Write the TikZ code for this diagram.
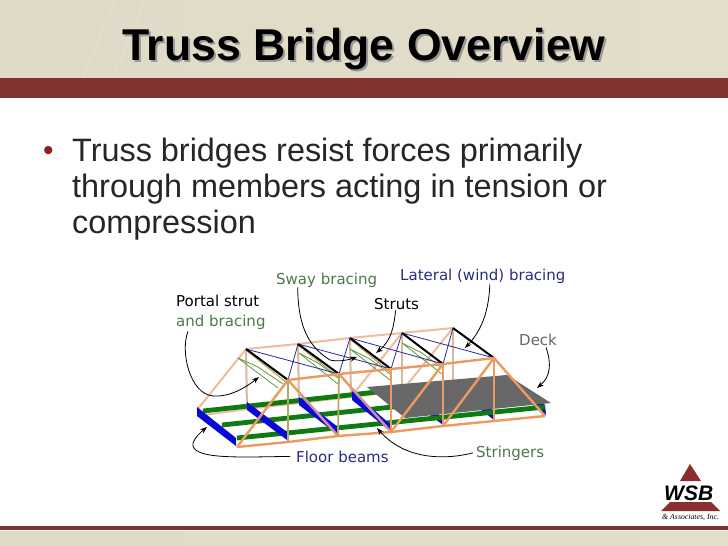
\documentclass[tikz,border=0pt]{standalone}
\usepackage{fontspec}
\setmainfont{Liberation Sans}
\newfontfamily\labelfont{DejaVu Sans}
\newfontfamily\logoserif{Liberation Serif}
\usetikzlibrary{arrows.meta}
\definecolor{bandA}{HTML}{DFDBC8}
\definecolor{bandB}{HTML}{E3DDC9}
\definecolor{barred}{HTML}{843230}
\definecolor{dotred}{HTML}{8E1F1F}
\definecolor{frontor}{HTML}{EC9A62}
\definecolor{backor}{HTML}{EDBD9E}
\definecolor{backgray}{HTML}{D9B8A0}
\definecolor{olive}{HTML}{B5A860}
\definecolor{plum}{HTML}{C58AC0}
\definecolor{bracegreen}{HTML}{5E9A3C}
\definecolor{bracenavy}{HTML}{2A2A9A}
\definecolor{beamblue}{HTML}{0A0AD8}
\definecolor{stringgreen}{HTML}{0E7A12}
\definecolor{deckgray}{HTML}{686868}
\definecolor{txtgreen}{HTML}{4A7A4A}
\definecolor{txtnavy}{HTML}{2C2C80}
\definecolor{logored}{HTML}{8A2F2D}
\tikzset{
  x=1pt,y=-1pt,
  titletext/.style={anchor=base west,inner sep=0pt,font=\fontsize{44.6}{44.6}\selectfont\bfseries},
  bodytext/.style={anchor=base west,inner sep=0pt,text=black!85,font=\fontsize{32.4}{32.4}\selectfont},
  tag/.style={anchor=base west,inner sep=0pt,font=\labelfont\fontsize{15}{15}\selectfont},
  frontline/.style={draw=frontor,line width=2.4pt},
  backline/.style={draw=backor,line width=2pt},
  postline/.style={draw=backgray,line width=2pt},
  strutline/.style={draw=black,line width=2pt},
  lateral/.style={draw=bracenavy,line width=0.8pt},
  sway/.style={draw=bracegreen,line width=0.8pt},
  oliveline/.style={draw=olive,line width=1.2pt},
  plumline/.style={draw=plum,line width=1.6pt},
  beam/.style={fill=beamblue,draw=none},
  stringer/.style={draw=stringgreen,line width=4.8pt},
  callout/.style={draw=black,line width=0.8pt,-{Stealth[length=7pt,width=5pt]}},
}
\begin{document}
\begin{tikzpicture}
\useasboundingbox (0,0) rectangle (728,546);
% slide background
\fill[white] (0,0) rectangle (728,546);
\shade[left color=bandA,right color=bandB] (0,0) rectangle (728,78);
\draw[white,opacity=.25,line width=.7pt] (115,0) -- (83,78);
\draw[white,opacity=.25,line width=.7pt] (145,0) -- (113,78);
\fill[barred] (0,78) rectangle (728,98);
\fill[barred] (0,525.5) rectangle (728,529.5);
\shade[left color=bandA,right color=bandB] (0,531) rectangle (728,546);
% title and body
\node[titletext,text=black] (title) at (122,60) {\rlap{\kern2pt\raisebox{-2pt}{\textcolor{black!40}{Truss Bridge Overview}}}Truss Bridge Overview};
\node[anchor=base west,inner sep=0pt,text=dotred,font=\fontsize{30}{30}\selectfont] (bullet) at (43,160) {•};
\node[bodytext] (l1) at (72,161) {Truss bridges resist forces primarily};
\node[bodytext] (l2) at (72,197) {through members acting in tension or};
\node[bodytext] (l3) at (72,233) {compression};
% joints
\coordinate (F0) at (237,447);\coordinate (F1) at (288,442);\coordinate (F2) at (338,436);
\coordinate (F3) at (391,432);\coordinate (F4) at (443,426);\coordinate (F5) at (494,421);\coordinate (F6) at (545,416);
\coordinate (T1) at (288,380);\coordinate (T2) at (339,374);\coordinate (T3) at (391,369);
\coordinate (T4) at (443,364);\coordinate (T5) at (494,358);
\coordinate (B0) at (197,410);\coordinate (B1) at (247,409);\coordinate (B2) at (299,403);
\coordinate (B3) at (351,397);\coordinate (B4) at (402,391);\coordinate (B5) at (453,386);\coordinate (B6) at (505,380);
\coordinate (U1) at (246,349);\coordinate (U2) at (298,344);\coordinate (U3) at (350,338);
\coordinate (U4) at (402,333);\coordinate (U5) at (453,328);
% back truss
\draw[backline] (197,416) -- (B1) -- (B2) -- (B3) -- (B4) -- (B5) -- (B6);
\draw[backline] (U1) -- (U2) -- (U3) -- (U4) -- (U5);
\draw[backline] (B0) -- (U1);
\draw[backline] (B3) -- (U4);
\draw[backline] (B4) -- (U5);
\foreach \a/\b in {U1/B1,U2/B2,U3/B3,U4/B4,U5/B5}{\draw[postline] (\a) -- (\b);}
% hidden ends of the floor beams
\fill[beam] (403,385) -- (443,418) -- (443,425) -- (403,394) -- cycle;
\fill[beam] (454,380) -- (494,411) -- (494,420) -- (454,389) -- cycle;
\fill[beam] (505,375) -- (545,405) -- (546,415) -- (505,384) -- cycle;
% stringers
\draw[stringer] (203,411) -- (505,378);
\draw[stringer] (222,425) -- (525,393);
\draw[stringer] (237,438) -- (545,407);
% floor beams
\fill[beam] (197,407) -- (236,438) -- (236,446) -- (197,416) -- cycle;
\fill[beam] (247,402) -- (287,432) -- (287,440) -- (247,410) -- cycle;
\fill[beam] (299,397) -- (338,427) -- (338,435) -- (299,405) -- cycle;
\fill[beam] (352,391) -- (390,424) -- (390,431) -- (352,400) -- cycle;
% deck
\fill[deckgray] (367,387) -- (507,375) -- (551,403) -- (405,418) -- cycle;
% sway bracing
\draw[sway] (238,358) -- (278,388) (238,358) -- (258,367) -- (283,384);
\draw[sway] (299,353) -- (338,384) (299,353) -- (318,363) -- (338,378);
\draw[sway] (350,349) -- (390,380) (350,349) -- (370,359) -- (390,374);
\draw[sway] (402,343) -- (442,374) (402,343) -- (422,353) -- (442,368);
% olive portal lines beneath the struts
\draw[oliveline] (246,350) -- (287,383);
\draw[oliveline] (298,345) -- (338,377);
\draw[oliveline] (350,339) -- (390,372);
% lateral bracing
\draw[lateral] (U1) -- (T2) (U2) -- (T1);
\draw[lateral] (U2) -- (T3) (U3) -- (T2);
\draw[lateral] (U3) -- (T4) (U4) -- (T3);
\draw[lateral] (U4) -- (T5) (U5) -- (T4);
% struts
\foreach \a/\b in {U1/T1,U2/T2,U3/T3,U4/T4,U5/T5}{\draw[strutline] (\a) -- (\b);}
% front truss
\draw[frontline] (F0) -- (F1) -- (F2) -- (F3) -- (F4) -- (F5) -- (F6);
\draw[frontline] (T1) -- (T2) -- (T3) -- (T4) -- (T5);
\draw[frontline] (F0) -- (T1) -- (F2);
\draw[frontline] (T2) -- (F3) -- (T4);
\draw[frontline] (F4) -- (T5) -- (F6);
\draw[plumline] (301,395) -- (335,432);
\draw[plumline] (352,389) -- (388,428);
\draw[oliveline,line width=1.8pt] (T1) -- (F1);
\draw[oliveline,line width=1.8pt] (T2) -- (F2);
\foreach \a/\b in {T3/F3,T4/F4,T5/F5}{\draw[frontline,line width=1.8pt] (\a) -- (\b);}
% labels
\node[tag,text=txtgreen] (sway) at (276,284) {Sway bracing};
\node[tag,text=txtnavy] (lat) at (400,280) {Lateral (wind) bracing};
\node[tag,text=black] (struts) at (374,309) {Struts};
\node[tag,text=black] (portal) at (176,306) {Portal strut};
\node[tag,text=txtgreen] (portal2) at (176,326) {and bracing};
\node[tag,text=black!60] (deck) at (519,345) {Deck};
\node[tag,text=txtgreen] (string) at (476,457) {Stringers};
\node[tag,text=txtnavy] (floor) at (296,462) {Floor beams};
% callout targets
\coordinate (cPortal) at (259,377);\coordinate (cSway) at (357,357);
\coordinate (cStruts) at (376,353);\coordinate (cLat) at (465,348);
\coordinate (cDeck) at (537,388);\coordinate (cString) at (377,428);
\coordinate (cFloor) at (207,427);
% callouts
\draw[callout] (portal2.south west) ++(12,2) .. controls (180,352) and (190,394) .. (213,396) .. controls (230,397) and (245,388) .. (cPortal);
\draw[callout] (sway.south) ++(-29,0) .. controls (298,320) and (305,345) .. (330,360) .. controls (338,362) and (348,360) .. (cSway);
\draw[callout] (struts.south) ++(-1,1) .. controls (394,325) and (392,340) .. (cStruts);
\draw[callout] (lat.south) ++(7,1) .. controls (489,310) and (482,330) .. (cLat);
\draw[callout] (deck.south) ++(8,2) .. controls (552,365) and (550,377) .. (cDeck);
\draw[callout] (string.west) ++(-3,0) .. controls (445,460) and (405,460) .. (cString);
\draw[callout] (floor.west) ++(-6,0) .. controls (240,457) and (190,460) .. (193,443) .. controls (195,437) and (201,432) .. (cFloor);
% logo
\fill[logored] (690,464) -- (680,481) -- (701,481) -- cycle;
\node[anchor=base west,inner sep=0pt,font=\fontsize{21}{21}\selectfont\bfseries\itshape] (wsb) at (664,500) {WSB};
\fill[logored] (670,502) -- (711,502) -- (720,511) -- (661,511) -- cycle;
\node[anchor=base west,inner sep=0pt,font=\logoserif\fontsize{7.8}{7.8}\selectfont\itshape] (assoc) at (662,519) {\& Associates, Inc.};
\end{tikzpicture}
\end{document}
